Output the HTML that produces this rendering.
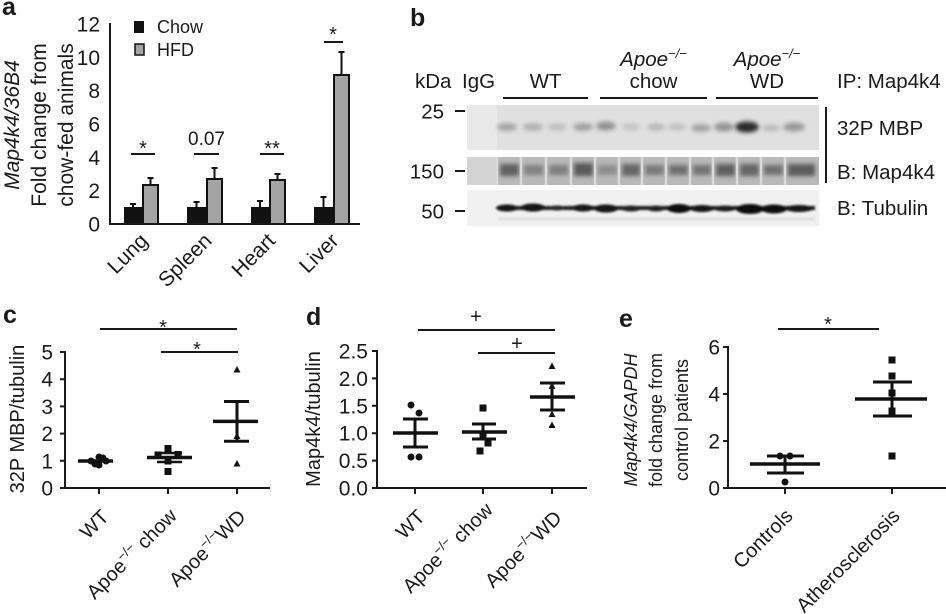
<!DOCTYPE html>
<html><head><meta charset="utf-8">
<style>
html,body{margin:0;padding:0;background:#fff;}
svg{display:block;}
text{font-family:"Liberation Sans",Arial,sans-serif;fill:#1a1a1a;}
</style></head>
<body>
<svg width="946" height="614" viewBox="0 0 946 614" xmlns="http://www.w3.org/2000/svg">
<defs>
<filter id="bl" x="-50%" y="-100%" width="200%" height="300%"><feGaussianBlur stdDeviation="2"/></filter>
<filter id="bl1" x="-20%" y="-100%" width="140%" height="300%"><feGaussianBlur stdDeviation="1"/></filter>
</defs>
<rect width="946" height="614" fill="#fff"/>

<!-- ================= PANEL A ================= -->
<text x="2" y="15" font-size="25" font-weight="bold">a</text>
<text transform="translate(19,125) rotate(-90)" text-anchor="middle" font-size="21" font-style="italic">Map4k4/36B4</text>
<text transform="translate(46,125) rotate(-90)" text-anchor="middle" font-size="21">Fold change from</text>
<text transform="translate(73,125) rotate(-90)" text-anchor="middle" font-size="21">chow-fed animals</text>
<g font-size="21" text-anchor="end">
<text x="100" y="231.5">0</text>
<text x="100" y="198.2">2</text>
<text x="100" y="164.8">4</text>
<text x="100" y="131.5">6</text>
<text x="100" y="98.2">8</text>
<text x="100" y="64.8">10</text>
<text x="100" y="31.5">12</text>
</g>
<g fill="#111">
<rect x="124" y="207" width="18" height="17"/>
<rect x="187" y="207" width="19" height="17"/>
<rect x="251" y="207" width="18" height="17"/>
<rect x="314" y="207" width="19" height="17"/>
</g>
<g fill="#a4a4a4" stroke="#111" stroke-width="2">
<rect x="143" y="185" width="15" height="39"/>
<rect x="207" y="179" width="15" height="45"/>
<rect x="270" y="180" width="15" height="44"/>
<rect x="334" y="75" width="15" height="149"/>
</g>
<g stroke="#111" stroke-width="2" fill="none">
<path d="M133,207 V204 M130,204 H136"/>
<path d="M150.5,184 V178 M147.5,178 H153.5"/>
<path d="M196.5,207 V202 M193.5,202 H199.5"/>
<path d="M214.5,178 V168 M211.5,168 H217.5"/>
<path d="M260,207 V201 M257,201 H263"/>
<path d="M277.5,179 V174 M274.5,174 H280.5"/>
<path d="M323.5,207 V197 M320.5,197 H326.5"/>
<path d="M341.5,74 V52 M338.5,52 H344.5"/>
</g>
<path d="M110,23 V224 H360" stroke="#1a1a1a" stroke-width="2" fill="none"/>
<rect x="134" y="21" width="10" height="12" fill="#111"/>
<rect x="135" y="44" width="9" height="11" fill="#a4a4a4" stroke="#111" stroke-width="1.5"/>
<text x="157" y="33" font-size="18">Chow</text>
<text x="157" y="56" font-size="18">HFD</text>
<g stroke="#1a1a1a" stroke-width="2">
<path d="M131,154 H155"/>
<path d="M194,154 H219"/>
<path d="M260,154 H284"/>
<path d="M324,42 H343"/>
</g>
<g font-size="20" text-anchor="middle">
<text x="143" y="155">*</text>
<text x="206.5" y="145" font-size="19">0.07</text>
<text x="272" y="155">**</text>
<text x="333" y="41">*</text>
</g>
<g font-size="21" text-anchor="end">
<text transform="translate(149,242) rotate(-45)">Lung</text>
<text transform="translate(213,242) rotate(-45)">Spleen</text>
<text transform="translate(276.5,242) rotate(-45)">Heart</text>
<text transform="translate(340,242) rotate(-45)">Liver</text>
</g>

<!-- ================= PANEL B ================= -->
<text x="410" y="26" font-size="25" font-weight="bold">b</text>
<g font-size="20.5">
<text x="415" y="88">kDa</text>
<text x="462" y="88">IgG</text>
<text x="545.5" y="88" text-anchor="middle">WT</text>
<text x="653.5" y="66" text-anchor="middle"><tspan font-style="italic">Apoe</tspan><tspan font-style="italic" font-size="13" dy="-8">−/−</tspan></text>
<text x="653.5" y="88" text-anchor="middle">chow</text>
<text x="767" y="66" text-anchor="middle"><tspan font-style="italic">Apoe</tspan><tspan font-style="italic" font-size="13" dy="-8">−/−</tspan></text>
<text x="767" y="88" text-anchor="middle">WD</text>
<text x="837" y="88">IP: Map4k4</text>
<text x="837" y="135">32P MBP</text>
<text x="837" y="179">B: Map4k4</text>
<text x="837" y="215">B: Tubulin</text>
<text x="444" y="118.5" text-anchor="end">25</text>
<text x="444" y="178.5" text-anchor="end">150</text>
<text x="444" y="218.5" text-anchor="end">50</text>
</g>
<g stroke="#1a1a1a" stroke-width="2">
<path d="M503,98 H588 M600,98 H707 M716,98 H818"/>
<path d="M455,111 H465 M455,171 H465 M455,211 H465"/>
<path d="M826,107 V183"/>
</g>
<!-- blot 1 -->
<rect x="467" y="105" width="352" height="45" fill="#e0e0e0"/>
<rect x="467" y="105" width="30" height="45" fill="#e9e9e9"/>
<g filter="url(#bl)">
<ellipse cx="507" cy="127" rx="10" ry="4" fill="#a6a6a6"/>
<ellipse cx="533" cy="127" rx="10" ry="4" fill="#b2b2b2"/>
<ellipse cx="557" cy="127" rx="9" ry="3.5" fill="#bdbdbd"/>
<ellipse cx="583" cy="127" rx="10" ry="4" fill="#a2a2a2"/>
<ellipse cx="606" cy="126" rx="10" ry="4.5" fill="#939393"/>
<ellipse cx="631" cy="127" rx="9" ry="3.5" fill="#c4c4c4"/>
<ellipse cx="656" cy="127" rx="9" ry="3.5" fill="#b6b6b6"/>
<ellipse cx="677" cy="127" rx="9" ry="3.5" fill="#c0c0c0"/>
<ellipse cx="701" cy="128" rx="10" ry="4" fill="#a4a4a4"/>
<ellipse cx="724" cy="127" rx="10" ry="4.5" fill="#959595"/>
<ellipse cx="747" cy="127" rx="12" ry="5.5" fill="#2a2a2a"/>
<ellipse cx="771" cy="128" rx="9" ry="3.5" fill="#bcbcbc"/>
<ellipse cx="794" cy="127" rx="11" ry="4.5" fill="#9a9a9a"/>
</g>
<!-- blot 2 -->
<rect x="467" y="157" width="352" height="28" fill="#b9b9b9"/>
<rect x="467" y="157" width="30" height="28" fill="#d4d4d4"/>
<g filter="url(#bl)">
<rect x="500" y="164" width="19" height="12" fill="#606060"/>
<rect x="524" y="165" width="19" height="10" fill="#828282"/>
<rect x="549" y="165" width="19" height="10" fill="#7e7e7e"/>
<rect x="574" y="163" width="19" height="13" fill="#5a5a5a"/>
<rect x="598" y="165" width="19" height="10" fill="#8e8e8e"/>
<rect x="622" y="164" width="18" height="12" fill="#666"/>
<rect x="645" y="165" width="19" height="10" fill="#7a7a7a"/>
<rect x="669" y="165" width="19" height="10" fill="#6e6e6e"/>
<rect x="693" y="165" width="18" height="10" fill="#727272"/>
<rect x="716" y="164" width="19" height="12" fill="#5e5e5e"/>
<rect x="740" y="164" width="19" height="12" fill="#666"/>
<rect x="764" y="165" width="19" height="10" fill="#707070"/>
<rect x="788" y="164" width="27" height="12" fill="#5c5c5c"/>
</g>
<g stroke="#dadada" stroke-width="2.5">
<path d="M497,157 V185 M521,157 V185 M546,157 V185 M571,157 V185 M595,157 V185 M619,157 V185 M642,157 V185 M666,157 V185 M690,157 V185 M713,157 V185 M737,157 V185 M761,157 V185 M785,157 V185"/>
</g>
<!-- blot 3 -->
<rect x="467" y="190" width="352" height="36" fill="#f1f1f1"/>
<g filter="url(#bl1)">
<path d="M498,219 H815" stroke="#d6d6d6" stroke-width="2"/>
<path d="M498,208 H815" stroke="#1a1a1a" stroke-width="4"/>
<ellipse cx="507" cy="208" rx="11" ry="3.5" fill="#151515"/>
<ellipse cx="533" cy="207.5" rx="12" ry="4" fill="#151515"/>
<ellipse cx="557" cy="208" rx="9" ry="2.5" fill="#252525"/>
<ellipse cx="583" cy="208" rx="11" ry="3.5" fill="#151515"/>
<ellipse cx="606" cy="208.5" rx="12" ry="4" fill="#151515"/>
<ellipse cx="631" cy="208.5" rx="10" ry="3" fill="#202020"/>
<ellipse cx="656" cy="208.5" rx="9" ry="3" fill="#202020"/>
<ellipse cx="679" cy="208.5" rx="12" ry="4.5" fill="#101010"/>
<ellipse cx="702" cy="208.5" rx="12" ry="3.5" fill="#181818"/>
<ellipse cx="725" cy="208.5" rx="11" ry="3" fill="#1c1c1c"/>
<ellipse cx="750" cy="209" rx="14" ry="5" fill="#101010"/>
<ellipse cx="774" cy="209" rx="13" ry="4.5" fill="#101010"/>
<ellipse cx="799" cy="208.5" rx="14" ry="3.5" fill="#181818"/>
</g>

<!-- ================= PANEL C ================= -->
<text x="3" y="323" font-size="25" font-weight="bold">c</text>
<text transform="translate(24,419) rotate(-90)" text-anchor="middle" font-size="20">32P MBP/tubulin</text>
<g font-size="21" text-anchor="end">
<text x="53" y="495.5">0</text>
<text x="53" y="468.3">1</text>
<text x="53" y="441.1">2</text>
<text x="53" y="413.9">3</text>
<text x="53" y="386.7">4</text>
<text x="53" y="359.5">5</text>
</g>
<g stroke="#1a1a1a" stroke-width="2" fill="none">
<path d="M65,351 V488 H270"/>
<path d="M60,488 H65 M60,460.8 H65 M60,433.6 H65 M60,406.4 H65 M60,379.2 H65 M60,352 H65"/>
<path d="M99,488 V494 M168,488 V494 M237,488 V494"/>
<path d="M100,329 H237 M161,352 H238"/>
</g>
<g font-size="20" text-anchor="middle">
<text x="163" y="334">*</text>
<text x="197" y="356">*</text>
</g>
<g fill="#111">
<circle cx="91" cy="461" r="3.5"/><circle cx="99" cy="457" r="3.5"/><circle cx="106" cy="461" r="3.5"/><circle cx="99" cy="465" r="3.5"/><circle cx="103" cy="458" r="3.5"/><circle cx="95" cy="464" r="3.5"/>
<rect x="164.5" y="445" width="7" height="7"/><rect x="164.5" y="468" width="7" height="7"/><rect x="154.5" y="451.5" width="7" height="7"/><rect x="174.5" y="451" width="7" height="7"/><rect x="164.5" y="457.5" width="7" height="7"/>
<polygon points="237,366 233.5,372.5 240.5,372.5"/>
<polygon points="237,432.5 233.5,439 240.5,439"/>
<polygon points="237,460 233.5,466.5 240.5,466.5"/>
</g>
<g stroke="#111" fill="none">
<path d="M78,461 H113" stroke-width="3.5"/>
<path d="M147,457.5 H192" stroke-width="3.5"/>
<path d="M157,453 H182 M157,462 H182" stroke-width="2.5"/>
<path d="M213,421.4 H258" stroke-width="3.5"/>
<path d="M237,401.5 V441.2 M224,401.5 H249 M224,441.2 H249" stroke-width="3"/>
</g>
<g font-size="20" text-anchor="end">
<text transform="translate(110,518) rotate(-45)">WT</text>
<text transform="translate(178,517) rotate(-45)">Apoe<tspan font-size="13" dy="-8">−/−</tspan><tspan dy="8"> chow</tspan></text>
<text transform="translate(247,518) rotate(-45)">Apoe<tspan font-size="13" dy="-8">−/−</tspan><tspan dy="8">WD</tspan></text>
</g>

<!-- ================= PANEL D ================= -->
<text x="306" y="325" font-size="25" font-weight="bold">d</text>
<text transform="translate(320,419) rotate(-90)" text-anchor="middle" font-size="20">Map4k4/tubulin</text>
<g font-size="21" text-anchor="end">
<text x="368" y="495.5">0.0</text>
<text x="368" y="468.1">0.5</text>
<text x="368" y="440.7">1.0</text>
<text x="368" y="413.3">1.5</text>
<text x="368" y="385.9">2.0</text>
<text x="368" y="358.5">2.5</text>
</g>
<g stroke="#1a1a1a" stroke-width="2" fill="none">
<path d="M377,350 V488 H587"/>
<path d="M372,488 H377 M372,460.6 H377 M372,433.2 H377 M372,405.8 H377 M372,378.4 H377 M372,351 H377"/>
<path d="M415,488 V494 M483,488 V494 M552,488 V494"/>
<path d="M418,330 H555 M478,353 H555"/>
</g>
<g font-size="20" text-anchor="middle">
<text x="476" y="323">+</text>
<text x="517" y="350">+</text>
</g>
<g fill="#111">
<circle cx="411" cy="405" r="3.5"/><circle cx="419" cy="413" r="3.5"/><circle cx="411" cy="457" r="3.5"/><circle cx="419" cy="457" r="3.5"/>
<rect x="479.5" y="404.5" width="7" height="7"/><rect x="479.5" y="430.5" width="7" height="7"/><rect x="484.5" y="439.5" width="7" height="7"/><rect x="476.5" y="447.5" width="7" height="7"/>
<polygon points="552,362.5 548.5,369 555.5,369"/>
<polygon points="552,382.5 548.5,389 555.5,389"/>
<polygon points="552,410.5 548.5,417 555.5,417"/>
<polygon points="552,421.5 548.5,428 555.5,428"/>
</g>
<g stroke="#111" fill="none">
<path d="M393,433 H438 M462,432 H507 M530,397 H575" stroke-width="3.5"/>
<path d="M415,419 V447 M403,419 H428 M403,447 H428" stroke-width="3"/>
<path d="M483,424 V439 M472,424 H496 M472,439 H496" stroke-width="3"/>
<path d="M552,383 V410 M540,383 H565 M540,410 H565" stroke-width="3"/>
</g>
<g font-size="20" text-anchor="end">
<text transform="translate(426,518) rotate(-45)">WT</text>
<text transform="translate(494,511) rotate(-45)">Apoe<tspan font-size="13" dy="-8">−/−</tspan><tspan dy="8"> chow</tspan></text>
<text transform="translate(563,519) rotate(-45)">Apoe<tspan font-size="13" dy="-8">−/−</tspan><tspan dy="8">WD</tspan></text>
</g>

<!-- ================= PANEL E ================= -->
<text x="619" y="327" font-size="25" font-weight="bold">e</text>
<text transform="translate(637,420) rotate(-90)" text-anchor="middle" font-size="18" font-style="italic">Map4k4/GAPDH</text>
<text transform="translate(662,420) rotate(-90)" text-anchor="middle" font-size="18">fold change from</text>
<text transform="translate(688,420) rotate(-90)" text-anchor="middle" font-size="18">control patients</text>
<g font-size="21" text-anchor="end">
<text x="720" y="495.5">0</text>
<text x="720" y="448.5">2</text>
<text x="720" y="401.5">4</text>
<text x="720" y="354.5">6</text>
</g>
<g stroke="#1a1a1a" stroke-width="2" fill="none">
<path d="M728,346 V488 H946"/>
<path d="M723,488 H728 M723,441 H728 M723,394 H728 M723,347 H728"/>
<path d="M785,488 V494 M892,488 V494"/>
<path d="M778,329 H879"/>
</g>
<text x="828" y="331" font-size="20" text-anchor="middle">*</text>
<g fill="#111">
<circle cx="780" cy="456" r="3.5"/><circle cx="790" cy="456" r="3.5"/><circle cx="785" cy="482" r="3.5"/>
<rect x="888.5" y="356.5" width="7" height="7"/><rect x="888.5" y="372.5" width="7" height="7"/><rect x="888.5" y="389.5" width="7" height="7"/><rect x="888.5" y="407.5" width="7" height="7"/><rect x="888.5" y="452.5" width="7" height="7"/>
</g>
<g stroke="#111" fill="none">
<path d="M750,464 H820 M855,399 H927" stroke-width="3.5"/>
<path d="M785,456 V473 M767,456 H804 M767,473 H804" stroke-width="3"/>
<path d="M892,382 V416 M873,382 H912 M873,416 H912" stroke-width="3"/>
</g>
<g font-size="20" text-anchor="end">
<text transform="translate(794,517) rotate(-45)">Controls</text>
<text transform="translate(901,517) rotate(-45)">Atherosclerosis</text>
</g>
</svg>
</body></html>
